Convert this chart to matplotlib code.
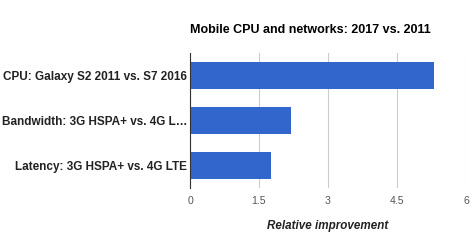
import matplotlib.pyplot as plt

plt.rcParams['font.family'] = ['Liberation Sans', 'DejaVu Sans']

categories = ['CPU: Galaxy S2 2011 vs. S7 2016',
              'Bandwidth: 3G HSPA+ vs. 4G L\u2026',
              'Latency: 3G HSPA+ vs. 4G LTE']
improvement = [5.3, 2.2, 1.75]
xticks = [0, 1.5, 3, 4.5, 6]
xtick_labels = ['0', '1.5', '3', '4.5', '6']

fig = plt.figure(figsize=(4.74, 2.41), dpi=100)
ax = fig.add_axes([190 / 474, 1 - 188 / 241, 276 / 474, 135 / 241])

ypos = list(range(len(categories)))
ax.barh(ypos, improvement, height=0.62, color='#3366cc', zorder=2)
ax.set_ylim(len(categories) - 0.5, -0.5)
ax.set_xlim(0, 6)

ax.set_xticks(xticks)
ax.set_xticklabels(xtick_labels, color='#555555', fontsize=7.6)
ax.set_yticks(ypos)
ax.set_yticklabels(categories, fontsize=8.45, fontweight='bold', color='#222222')
ax.tick_params(axis='both', length=0)
ax.tick_params(axis='x', pad=6)
ax.tick_params(axis='y', pad=2)

ax.grid(axis='x', color='#cccccc', lw=0.8, zorder=0)
for s in ['top', 'right', 'bottom']:
    ax.spines[s].set_visible(False)
ax.spines['left'].set_color('#333333')
ax.spines['left'].set_linewidth(0.8)
ax.spines['left'].set_zorder(3)

ax.set_xlabel('Relative improvement', fontsize=8.4, fontweight='bold',
              style='italic', color='#222222', labelpad=10)
fig.text(190 / 474, 1 - 30 / 241, 'Mobile CPU and networks: 2017 vs. 2011',
         fontsize=9, fontweight='bold', color='#000000', va='center', ha='left')

fig.savefig('out.png', dpi=100)
